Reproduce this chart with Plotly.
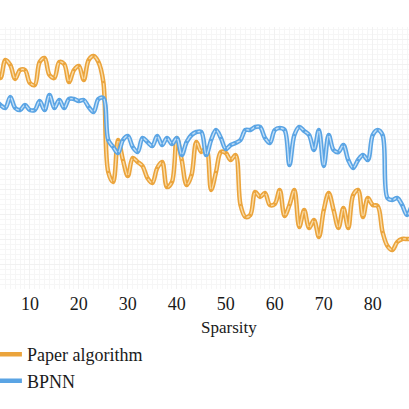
import plotly.graph_objects as go

sparsity = list(range(3, 89))

paper_algorithm = [
    43.8, 42.2, 45.8, 44.8, 42.0, 43.8, 43.8, 41.2, 40.8, 45.4,
    46.2, 42.8, 42.2, 45.4, 45.0, 41.4, 43.8, 44.6, 41.8, 45.8,
    46.6, 45.4, 41.4, 23.4, 21.4, 29.8, 25.8, 22.6, 26.2, 25.4,
    24.6, 22.2, 21.2, 24.2, 25.4, 20.4, 21.4, 30.2, 25.8, 20.8,
    22.8, 29.4, 27.4, 28.2, 19.8, 23.4, 27.4, 27.2, 25.8, 26.8,
    16.8, 14.4, 14.8, 19.4, 18.4, 19.2, 16.8, 17.0, 19.8, 14.6,
    16.8, 19.8, 12.4, 15.8, 12.2, 13.8, 10.4, 15.8, 19.2, 15.8,
    12.2, 16.2, 12.2, 18.8, 19.8, 14.4, 18.2, 16.8, 16.6, 11.4,
    8.6, 7.8, 9.4, 10.0, 10.0, 10.0,
]

bpnn = [
    37.8, 36.8, 36.2, 38.4, 36.2, 35.8, 36.8, 35.8, 35.8, 37.6,
    35.8, 38.8, 36.2, 37.8, 36.2, 38.0, 38.0, 37.6, 37.8, 36.4,
    35.4, 38.0, 38.2, 29.8, 28.4, 27.2, 29.8, 30.6, 28.4, 27.4,
    30.2, 29.4, 28.6, 30.6, 28.8, 30.2, 29.0, 30.2, 26.8, 29.4,
    30.8, 31.4, 31.4, 26.8, 29.8, 31.8, 30.2, 28.0, 28.8, 29.2,
    29.8, 31.8, 31.8, 32.4, 32.4, 30.2, 29.2, 31.8, 32.2, 31.8,
    24.8, 30.8, 32.4, 31.6, 30.8, 27.8, 31.8, 24.6, 30.8, 27.8,
    27.4, 28.8, 25.8, 24.2, 25.8, 26.8, 25.8, 30.8, 31.8, 30.8,
    18.2, 17.8, 18.2, 16.8, 14.8, 16.8,
]

tick_vals = [10, 20, 30, 40, 50, 60, 70, 80]

series = [
    ("Paper algorithm", paper_algorithm, "#EBA43C", "#F9DCA8"),
    ("BPNN", bpnn, "#5AA4E4", "#C2DFF7"),
]

fig = go.Figure()
for name, vals, outer, inner in series:
    fig.add_trace(go.Scatter(
        x=sparsity, y=vals, name=name, mode="lines",
        line=dict(color=outer, width=4.5, shape="spline", smoothing=1),
        legendgroup=name, showlegend=True,
    ))
    fig.add_trace(go.Scatter(
        x=sparsity, y=vals, name=name, mode="lines+markers",
        line=dict(color=inner, width=1.4, shape="spline", smoothing=1),
        marker=dict(color=outer, size=2.5),
        legendgroup=name, showlegend=False, hoverinfo="skip",
    ))

font_family = "Liberation Serif"
fig.update_layout(
    width=409, height=409,
    margin=dict(l=0, r=0, t=27, b=120, autoexpand=False),
    paper_bgcolor="white", plot_bgcolor="white",
    font=dict(family=font_family, size=17, color="#1a1a1a"),
    showlegend=True,
    legend=dict(
        x=-0.032, y=-0.18, xanchor="left", yanchor="top",
        bgcolor="rgba(0,0,0,0)", font=dict(size=18),
        tracegroupgap=0, itemwidth=30,
    ),
    xaxis=dict(
        range=[3.9, 87.4], tickvals=tick_vals,
        showgrid=True, gridcolor="#F1F1F1", gridwidth=1,
        minor=dict(dtick=1, showgrid=True, gridcolor="#F6F6F6", gridwidth=1),
        zeroline=False, showline=False, ticks="",
        tickfont=dict(size=18), ticklabelstandoff=2,
    ),
    yaxis=dict(
        range=[0, 52.4], dtick=5, showticklabels=False,
        showgrid=True, gridcolor="#F1F1F1", gridwidth=1,
        minor=dict(dtick=1, showgrid=True, gridcolor="#F6F6F6", gridwidth=1),
        zeroline=False, showline=False, ticks="",
    ),
    annotations=[dict(
        text="Sparsity", xref="paper", yref="paper",
        x=(229 / 409), y=-(327 - 289) / 262, xanchor="center", yanchor="middle",
        showarrow=False, font=dict(size=17, family=font_family),
    )],
)

fig.write_html("out.html")
